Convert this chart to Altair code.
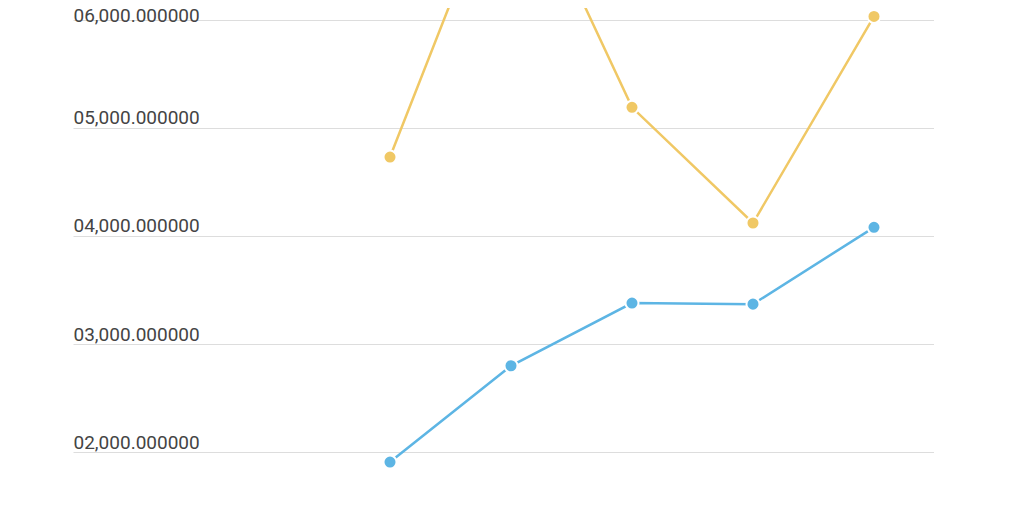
import altair as alt
import pandas as pd

positions = [0, 1, 2, 3, 4]
series_a = [1910, 2800, 3380, 3370, 4080]
series_b = [4730, 7580, 5190, 4120, 6030]
series_names = ["Series A", "Series B"]
series_colors = ["#5db5e4", "#f0c865"]
tick_values = [2000, 3000, 4000, 5000, 6000]

rows = []
for p, v in zip(positions, series_a):
    rows.append({"pos": p, "value": v, "series": series_names[0]})
for p, v in zip(positions, series_b):
    rows.append({"pos": p, "value": v, "series": series_names[1]})
df = pd.DataFrame(rows)

x_enc = alt.X("pos:Q", scale=alt.Scale(domain=[-2.62, 4.496], nice=False, zero=False), axis=None)
y_enc = alt.Y(
    "value:Q",
    scale=alt.Scale(domain=[1448, 6108], nice=False, zero=False),
    axis=alt.Axis(
        values=tick_values,
        format="013,.6f",
        title=None,
        domain=False,
        ticks=False,
        labelAlign="left",
        labelBaseline="alphabetic",
        labelPadding=0,
        labelOffset={"condition": {"test": "datum.value >= 6000", "value": 2}, "value": -4},
        labelFont="Roboto",
        labelFontSize=19,
        labelColor="#444444",
        gridColor="#dddddd",
        gridWidth=1,
    ),
)
color_enc = alt.Color(
    "series:N",
    scale=alt.Scale(domain=series_names, range=series_colors),
    legend=None,
)

base = alt.Chart(df).encode(x=x_enc, y=y_enc, color=color_enc, detail="series:N")
lines = base.mark_line(strokeWidth=2.5, clip=True)
points = base.mark_point(filled=True, size=170, strokeWidth=2, opacity=1, clip=True).encode(
    stroke=alt.value("white")
)

chart = (
    alt.layer(lines, points)
    .properties(
        width=861,
        height=504,
        autosize=alt.AutoSizeParams(type="none"),
        padding={"left": 65, "top": 0, "right": 0, "bottom": 0},
    )
    .configure_view(stroke=None)
)

chart.save("out.html", embed_options={"renderer": "svg", "actions": False})
